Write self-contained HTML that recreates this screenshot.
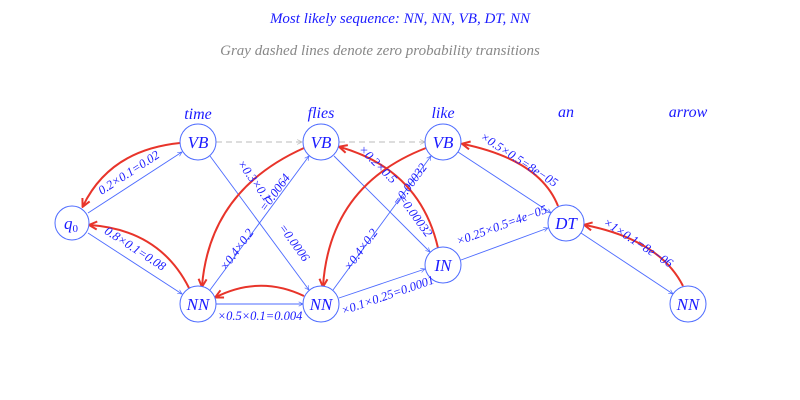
<!DOCTYPE html>
<html><head><meta charset="utf-8"><style>
html,body{margin:0;padding:0;background:#fff;width:800px;height:400px;overflow:hidden}
text{font-family:"Liberation Serif",serif;font-style:italic;fill:#1a1aff}
</style></head><body>
<svg width="800" height="400" viewBox="0 0 800 400" xmlns="http://www.w3.org/2000/svg">
<defs>
<marker id="b" viewBox="0 0 10 10" refX="9" refY="5" markerWidth="6" markerHeight="6" orient="auto"><path d="M1,1 L9,5 L1,9" fill="none" stroke="#4d6bff" stroke-width="1.2"/></marker>
<marker id="r" viewBox="0 0 10 10" refX="8" refY="5" markerWidth="5" markerHeight="5" orient="auto"><path d="M1,1 L9,5 L1,9" fill="none" stroke="#e8342a" stroke-width="2"/></marker>
<marker id="g" viewBox="0 0 10 10" refX="9" refY="5" markerWidth="6" markerHeight="6" orient="auto"><path d="M1,1 L9,5 L1,9" fill="none" stroke="#bbb" stroke-width="1.2"/></marker>
</defs>
<text x="400" y="23" text-anchor="middle" font-size="15">Most likely sequence: NN, NN, VB, DT, NN</text>
<text x="380" y="55" text-anchor="middle" font-size="15" style="fill:#888">Gray dashed lines denote zero probability transitions</text>
<g font-size="16" text-anchor="middle">
<text x="198" y="119">time</text><text x="321" y="118">flies</text><text x="443" y="118">like</text><text x="566" y="117">an</text><text x="688" y="117">arrow</text>
</g>
<g stroke="#bbb" stroke-width="1" stroke-dasharray="6,4" fill="none">
<line x1="216" y1="142" x2="302" y2="142" marker-end="url(#g)"/>
<line x1="339" y1="142" x2="425" y2="142" marker-end="url(#g)"/>
</g>
<g stroke="#4d6bff" stroke-width="0.9" fill="none">
<line x1="88" y1="213" x2="182" y2="152" marker-end="url(#b)"/>
<line x1="88" y1="233" x2="182" y2="294" marker-end="url(#b)"/>
<line x1="210" y1="156" x2="309" y2="290" marker-end="url(#b)"/>
<line x1="210" y1="290" x2="309" y2="156" marker-end="url(#b)"/>
<line x1="216" y1="304" x2="303" y2="304" marker-end="url(#b)"/>
<line x1="334" y1="156" x2="430" y2="252" marker-end="url(#b)"/>
<line x1="333" y1="290" x2="431" y2="156" marker-end="url(#b)"/>
<line x1="339" y1="298" x2="425" y2="269" marker-end="url(#b)"/>
<line x1="458" y1="152" x2="551" y2="213" marker-end="url(#b)"/>
<line x1="461" y1="260" x2="548" y2="228" marker-end="url(#b)"/>
<line x1="581" y1="233" x2="673" y2="294" marker-end="url(#b)"/>
</g>
<g stroke="#e8342a" stroke-width="2" fill="none">
<path d="M180,143 Q110,150 83,206" marker-end="url(#r)"/>
<path d="M189,288 Q160,230 90,225" marker-end="url(#r)"/>
<path d="M304,148 Q210,190 202,286" marker-end="url(#r)"/>
<path d="M304,296 Q260,275 216,297" marker-end="url(#r)"/>
<path d="M426,148 Q330,185 323,286" marker-end="url(#r)"/>
<path d="M438,248 Q420,170 340,147" marker-end="url(#r)"/>
<path d="M558,206 Q540,160 463,144" marker-end="url(#r)"/>
<path d="M683,286 Q660,240 585,225" marker-end="url(#r)"/>
</g>
<g fill="#fff" stroke="#4d6bff" stroke-width="1">
<circle cx="72" cy="223" r="17"/>
<circle cx="198" cy="142" r="18"/><circle cx="198" cy="304" r="18"/>
<circle cx="321" cy="142" r="18"/><circle cx="321" cy="304" r="18"/>
<circle cx="443" cy="142" r="18"/><circle cx="443" cy="265" r="18"/>
<circle cx="566" cy="223" r="18"/><circle cx="688" cy="304" r="18"/>
</g>
<g font-size="17" text-anchor="middle">
<text x="71" y="229">q<tspan font-size="11" dy="3" style="font-style:normal">0</tspan></text>
<text x="198" y="148">VB</text><text x="198" y="310">NN</text>
<text x="321" y="148">VB</text><text x="321" y="310">NN</text>
<text x="443" y="148">VB</text><text x="443" y="271">IN</text>
<text x="566" y="229">DT</text><text x="688" y="310">NN</text>
</g>
<g font-size="12.5" text-anchor="middle">
<text transform="translate(131,176) rotate(-33)">0.2×0.1=0.02</text>
<text transform="translate(133,252) rotate(33)">0.8×0.1=0.08</text>
<text transform="translate(251,183) rotate(54)">×0.3×0.1</text>
<text transform="translate(291,245) rotate(54)">=0.0006</text>
<text transform="translate(278,195) rotate(-54)">=0.0064</text>
<text transform="translate(240,252) rotate(-54)">×0.4×0.2</text>
<text x="260" y="320">×0.5×0.1=0.004</text>
<text transform="translate(375,167) rotate(45)">×0.2×0.5</text>
<text transform="translate(412,218) rotate(54)">=0.00032</text>
<text transform="translate(413,187) rotate(-54)">=0.00032</text>
<text transform="translate(364,252) rotate(-54)">×0.4×0.2</text>
<text transform="translate(389,299) rotate(-19)">×0.1×0.25=0.0001</text>
<text transform="translate(517,163) rotate(33)">×0.5×0.5=8e−05</text>
<text transform="translate(503,229) rotate(-20)">×0.25×0.5=4e−05</text>
<text transform="translate(636,246) rotate(33)">×1×0.1=8e−06</text>
</g>
</svg>
</body></html>
